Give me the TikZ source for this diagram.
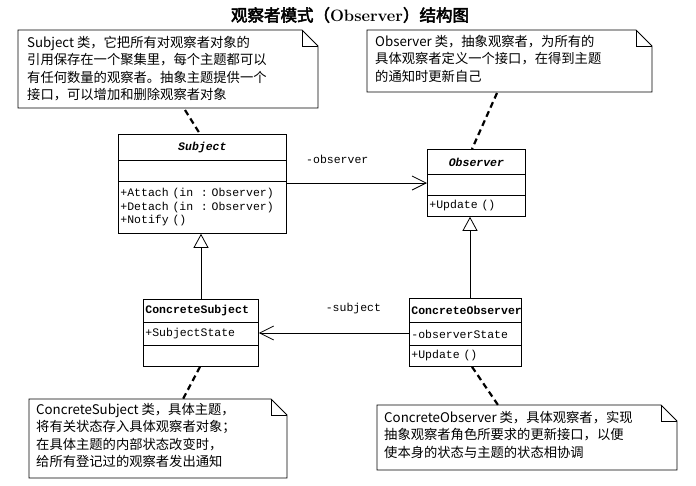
\documentclass[tikz,border=0pt]{standalone}
\usepackage{fontspec}
\usetikzlibrary{arrows.meta}
\newfontfamily\cjk{Noto Sans CJK SC}
\newfontfamily\cjkb[FakeBold=3]{Noto Sans CJK SC}
\setmonofont{Liberation Mono}
\begin{document}
\begin{tikzpicture}[x=1pt,y=-1pt,
  comp/.style={draw,line width=0.8pt,anchor=north west,inner sep=1pt,font=\ttfamily\fontsize{11.5}{13.5}\selectfont,align=left},
  notetext/.style={anchor=north west,inner sep=0pt,align=left,font=\cjk\fontsize{13.3}{17.5}\selectfont},
  lbl/.style={font=\ttfamily\fontsize{11.5}{12}\selectfont},
  ln/.style={line width=0.8pt},
  dsh/.style={line width=2.2pt,dash pattern=on 6pt off 4pt},
  gen/.style={ln,-{Triangle[open,width=15pt,length=14pt]}},
  assoc/.style={ln,-{Straight Barb[width=14pt,length=14pt,line width=0.8pt]}}]
\useasboundingbox (0,0) rectangle (696,485);
\fill[white] (0,0) rectangle (696,485);
% title
\node (title) at (350,15) {\cjkb\fontsize{16.5}{20}\selectfont 观察者模式（\textbf{\rmfamily Observer}）结构图};
% notes
\newcommand\notebox[5]{% name, x1,y1,x2,y2
  \draw[ln,fill=white] (#2,#3) -- (#4-16,#3) -- (#4,#3+16) -- (#4,#5) -- (#2,#5) -- cycle;
  \draw[ln] (#4-16,#3) -- (#4-16,#3+16) -- (#4,#3+16);
  \coordinate (#1) at ({(#2+#4)/2},{(#3+#5)/2});}
\notebox{n1}{18}{30}{318}{108}
\node[notetext] (t1) at (27,36) {Subject 类，它把所有对观察者对象的\\引用保存在一个聚集里，每个主题都可以\\有任何数量的观察者。抽象主题提供一个\\接口，可以增加和删除观察者对象};
\notebox{n2}{367}{30}{652}{92}
\node[notetext] (t2) at (375,35) {Observer 类，抽象观察者，为所有的\\具体观察者定义一个接口，在得到主题\\的通知时更新自己};
\notebox{n3}{29}{399}{287}{478}
\node[notetext] (t3) at (36,403) {ConcreteSubject 类，具体主题，\\将有关状态存入具体观察者对象；\\在具体主题的内部状态改变时，\\给所有登记过的观察者发出通知};
\notebox{n4}{377}{405}{677}{470}
\node[notetext] (t4) at (384,411) {ConcreteObserver 类，具体观察者，实现\\抽象观察者角色所要求的更新接口，以便\\使本身的状态与主题的状态相协调};
% Subject
\node[comp,minimum width=168pt,minimum height=26pt,align=center] (sN) at (118,134) {\bfseries\itshape Subject};
\node[comp,minimum width=168pt,minimum height=21pt] (sA) at (118,160) {};
\node[comp,minimum width=168pt,minimum height=52pt,text width=164pt] (sO) at (118,181) {+Attach~(in~~:~Observer)\\+Detach~(in~~:~Observer)\\+Notify~()};
% Observer
\node[comp,minimum width=98pt,minimum height=25pt,align=center] (oN) at (427,149) {\bfseries\itshape Observer};
\node[comp,minimum width=98pt,minimum height=21pt] (oA) at (427,174) {};
\node[comp,minimum width=98pt,minimum height=21pt,text width=94pt] (oO) at (427,195) {+Update~()};
% ConcreteSubject
\node[comp,minimum width=115pt,minimum height=23pt,text width=111pt] (csN) at (143,299) {\bfseries ConcreteSubject};
\node[comp,minimum width=115pt,minimum height=23pt,text width=111pt] (csA) at (143,322) {+SubjectState};
\node[comp,minimum width=115pt,minimum height=21pt] (csO) at (143,345) {};
% ConcreteObserver
\node[comp,minimum width=112pt,minimum height=24pt,text width=108pt] (coN) at (409,298) {\bfseries ConcreteObserver};
\node[comp,minimum width=112pt,minimum height=23pt,text width=108pt] (coA) at (409,322) {-observerState};
\node[comp,minimum width=112pt,minimum height=21pt,text width=108pt] (coO) at (409,345) {+Update~()};
% generalizations
\draw[gen] (csN.north -| 201,0) -- (sO.south -| 201,0);
\draw[gen] (coN.north -| 470,0) -- (oO.south -| 470,0);
% associations
\draw[assoc] (sO.east |- 0,183) -- (oA.west |- 0,183) node[pos=0.36,above=16pt,lbl] (lo) {-observer};
\draw[assoc] (coA.west |- 0,333) -- (csA.east |- 0,333) node[pos=0.37,above=15pt,lbl] (ls) {-subject};
% dashed note links
\draw[dsh] (185,110) -- (sN.north -| 200,0);
\draw[dsh] (497,93) -- (oN.north -| 472,0);
\draw[dsh] (csO.south -| 200,0) -- (183,399);
\draw[dsh] (coO.south -| 472,0) -- (498,405);
\end{tikzpicture}
\end{document}
